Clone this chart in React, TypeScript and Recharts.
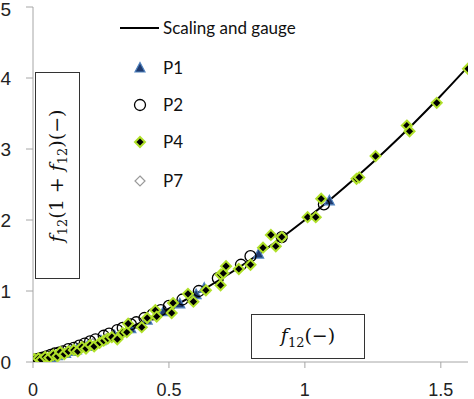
import React from "react";
import { ScatterChart, Scatter, XAxis, YAxis } from "recharts";

// Scaling and gauge curve
const curveX = [0, 0.1, 0.2, 0.3, 0.4, 0.5, 0.6, 0.7, 0.8, 0.9, 1.0, 1.1, 1.2, 1.3, 1.4, 1.5, 1.6];
const curveY = [0, 0.11, 0.24, 0.39, 0.56, 0.75, 0.96, 1.19, 1.44, 1.71, 2.0, 2.31, 2.64, 2.99, 3.36, 3.75, 4.16];

const p1X = [0.01, 0.03, 0.05, 0.07, 0.09, 0.12, 0.14, 0.16, 0.2, 0.25, 0.3, 0.36, 0.42, 0.48, 0.54, 0.6, 0.63, 0.83, 1.09];
const p1Y = [0.0, 0.02, 0.04, 0.06, 0.09, 0.12, 0.15, 0.17, 0.22, 0.3, 0.37, 0.47, 0.59, 0.71, 0.82, 0.95, 1.04, 1.52, 2.27];

const p2X = [
  0.005, 0.015, 0.025, 0.035, 0.05, 0.065, 0.08, 0.095, 0.11, 0.13, 0.15, 0.17, 0.19, 0.21, 0.23,
  0.26, 0.28, 0.31, 0.33, 0.36, 0.38, 0.41, 0.44, 0.47, 0.5, 0.55, 0.61, 0.68, 0.765, 0.8, 0.915, 1.07,
];
const p2Y = [
  0.03, 0.04, 0.05, 0.06, 0.08, 0.1, 0.12, 0.13, 0.15, 0.18, 0.2, 0.23, 0.26, 0.29, 0.32,
  0.37, 0.4, 0.45, 0.48, 0.53, 0.56, 0.62, 0.67, 0.73, 0.79, 0.88, 1.0, 1.18, 1.37, 1.49, 1.76, 2.22,
];

const p4X = [
  0.005, 0.02, 0.03, 0.045, 0.06, 0.075, 0.09, 0.1, 0.115, 0.13, 0.15, 0.165, 0.18, 0.195, 0.21,
  0.225, 0.245, 0.26, 0.275, 0.29, 0.31, 0.33, 0.345, 0.35, 0.4, 0.42, 0.45, 0.455, 0.51, 0.515,
  0.57, 0.59, 0.636, 0.69, 0.69, 0.7, 0.71, 0.757, 0.8, 0.846, 0.875, 0.893, 0.915, 1.01, 1.04,
  1.06, 1.19, 1.2, 1.26, 1.375, 1.385, 1.485, 1.6,
];
const p4Y = [
  0.04, 0.05, 0.03, 0.07, 0.06, 0.1, 0.08, 0.14, 0.11, 0.15, 0.17, 0.15, 0.21, 0.19, 0.24,
  0.22, 0.27, 0.3, 0.33, 0.35, 0.32, 0.41, 0.42, 0.54, 0.49, 0.62, 0.73, 0.64, 0.69, 0.83,
  0.96, 0.85, 1.01, 1.08, 1.23, 1.25, 1.35, 1.31, 1.37, 1.61, 1.79, 1.63, 1.76, 2.04, 2.04,
  2.3, 2.58, 2.6, 2.9, 3.33, 3.25, 3.65, 4.13,
];

const p7X = [0.01, 0.03, 0.06, 0.09, 0.13, 0.17, 0.22, 0.27];
const p7Y = [0.01, 0.03, 0.06, 0.09, 0.14, 0.19, 0.26, 0.33];

const xTicks = [0, 0.5, 1, 1.5];
const yTicks = [0, 1, 2, 3, 4, 5];

const zip = (xs: number[], ys: number[]) => xs.map((x, i) => ({ x, y: ys[i] }));

const curveData = zip(curveX, curveY);
const p1Data = zip(p1X, p1Y);
const p2Data = zip(p2X, p2Y);
const p4Data = zip(p4X, p4Y);
const p7Data = zip(p7X, p7Y);

const AXIS = "#a6a6a6";
const TICK_FONT = "'Liberation Sans', Arial, sans-serif";
const LEGEND_FONT = "Lato, 'Open Sans', sans-serif";

function Triangle({ cx, cy }: any) {
  return (
    <polygon
      points={`${cx},${cy - 5.5} ${cx + 5},${cy + 4} ${cx - 5},${cy + 4}`}
      fill="#1f3a6e"
      stroke="#4f81bd"
      strokeWidth={1.2}
    />
  );
}

function Ring({ cx, cy }: any) {
  return <circle cx={cx} cy={cy} r={5.5} fill="none" stroke="#000" strokeWidth={1.3} />;
}

function GreenDiamond({ cx, cy }: any) {
  return (
    <path
      d={`M${cx},${cy - 5} L${cx + 5},${cy} L${cx},${cy + 5} L${cx - 5},${cy} Z`}
      fill="#000"
      stroke="#b0e02a"
      strokeWidth={2}
    />
  );
}

function GreyDiamond({ cx, cy }: any) {
  return (
    <path
      d={`M${cx},${cy - 5} L${cx + 5},${cy} L${cx},${cy + 5} L${cx - 5},${cy} Z`}
      fill="#fff"
      stroke="#9a9a9a"
      strokeWidth={1.2}
    />
  );
}

function XTick({ x, y, payload }: any) {
  return (
    <text x={x} y={y + 26} textAnchor="middle" fontSize={18} fontFamily={TICK_FONT} fill="#222">
      {payload.value}
    </text>
  );
}

function YTick({ y, payload }: any) {
  return (
    <text x={11} y={y + 7} textAnchor="end" fontSize={19} fontFamily={TICK_FONT} fill="#222">
      {payload.value}
    </text>
  );
}

const legendRows = [
  { name: "P1", y: 68, Shape: Triangle },
  { name: "P2", y: 105, Shape: Ring },
  { name: "P4", y: 142, Shape: GreenDiamond },
  { name: "P7", y: 181, Shape: GreyDiamond },
];

const mathFont = "'DejaVu Serif', 'Liberation Serif', serif";

export default function App() {
  return (
    <div style={{ position: "absolute", left: 0, top: 0, width: 474, height: 399, background: "#fff" }}>
      <ScatterChart width={474} height={399} margin={{ top: 7, right: 6, bottom: 0, left: 0 }}>
        <XAxis
          type="number"
          dataKey="x"
          domain={[0, 1.6]}
          ticks={xTicks}
          stroke={AXIS}
          tickSize={6}
          tick={<XTick />}
          height={37}
          allowDataOverflow
        />
        <YAxis
          type="number"
          dataKey="y"
          domain={[0, 5]}
          ticks={yTicks}
          stroke={AXIS}
          tickSize={7}
          tick={<YTick />}
          width={33}
          allowDataOverflow
        />
        <Scatter
          name="Scaling and gauge"
          data={curveData}
          line={{ stroke: "#000", strokeWidth: 2 }}
          lineJointType="monotoneX"
          shape={() => null}
          isAnimationActive={false}
        />
        <Scatter name="P7" data={p7Data} shape={<GreyDiamond />} isAnimationActive={false} />
        <Scatter name="P1" data={p1Data} shape={<Triangle />} isAnimationActive={false} />
        <Scatter name="P2" data={p2Data} shape={<Ring />} isAnimationActive={false} />
        <Scatter name="P4" data={p4Data} shape={<GreenDiamond />} isAnimationActive={false} />
      </ScatterChart>

      {/* legend */}
      <svg width={474} height={399} style={{ position: "absolute", left: 0, top: 0, pointerEvents: "none" }}>
        <line x1={120} y1={28} x2={159} y2={28} stroke="#000" strokeWidth={2} />
        <text x={163} y={34} fontSize={17} fontFamily={LEGEND_FONT} fill="#111">
          Scaling and gauge
        </text>
        {legendRows.map(({ name, y, Shape }) => (
          <g key={name}>
            <Shape cx={140} cy={y} />
            <text x={163} y={y + 6} fontSize={17} fontFamily={LEGEND_FONT} fill="#111">
              {name}
            </text>
          </g>
        ))}
      </svg>

      {/* y axis title box */}
      <div
        style={{
          position: "absolute",
          left: 35,
          top: 72,
          width: 43,
          height: 205,
          border: "1px solid #333",
          background: "#fff",
          display: "flex",
          alignItems: "center",
          justifyContent: "center",
        }}
      >
        <div
          style={{
            transform: "rotate(-90deg)",
            whiteSpace: "nowrap",
            fontFamily: mathFont,
            fontSize: 19,
            color: "#111",
          }}
        >
          <i>f</i>
          <sub style={{ fontSize: 13 }}>12</sub>(1 + <i>f</i>
          <sub style={{ fontSize: 13 }}>12</sub>)(−)
        </div>
      </div>

      {/* x axis title box */}
      <div
        style={{
          position: "absolute",
          left: 251,
          top: 314,
          width: 112,
          height: 43,
          border: "1px solid #333",
          background: "#fff",
          display: "flex",
          alignItems: "center",
          justifyContent: "center",
          fontFamily: mathFont,
          fontSize: 19,
          color: "#111",
        }}
      >
        <span>
          <i>f</i>
          <sub style={{ fontSize: 13 }}>12</sub>(−)
        </span>
      </div>
    </div>
  );
}
